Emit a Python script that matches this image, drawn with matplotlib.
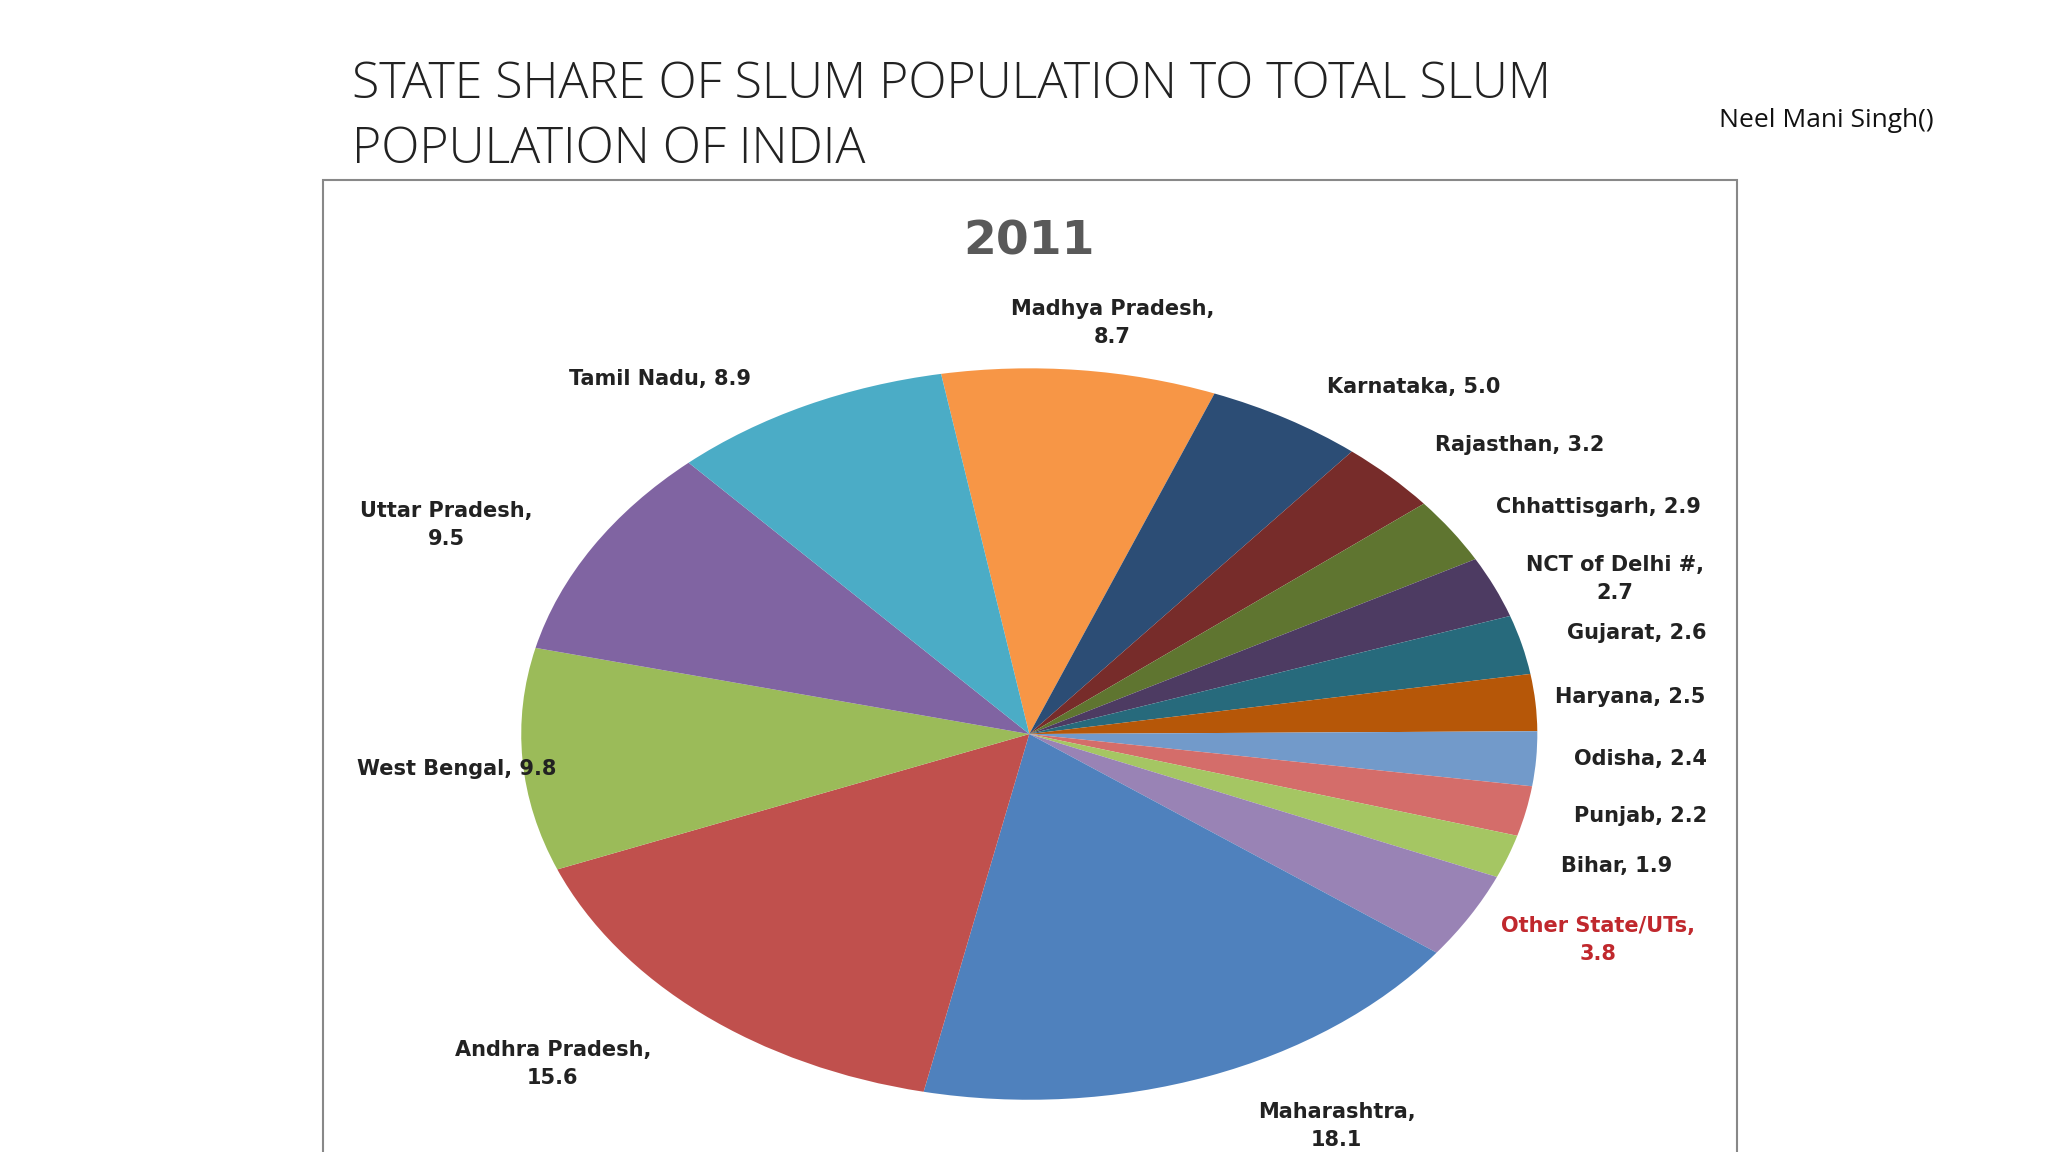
import matplotlib
matplotlib.use('Agg')
import matplotlib.pyplot as plt
from matplotlib.patches import Rectangle

states = ['Madhya Pradesh', 'Karnataka', 'Rajasthan', 'Chhattisgarh', 'NCT of Delhi #',
          'Gujarat', 'Haryana', 'Odisha', 'Punjab', 'Bihar', 'Other State/UTs',
          'Maharashtra', 'Andhra Pradesh', 'West Bengal', 'Uttar Pradesh', 'Tamil Nadu']
shares = [8.7, 5.0, 3.2, 2.9, 2.7, 2.6, 2.5, 2.4, 2.2, 1.9, 3.8, 18.1, 15.6, 9.8, 9.5, 8.9]
colors = ['#F79646', '#2C4D75', '#772C2A', '#5F7530', '#4D3B62', '#276A7C', '#B65708',
          '#729ACA', '#D46D6A', '#A5C663', '#9983B5', '#4F81BD', '#C0504D', '#9BBB59',
          '#8064A2', '#4BACC6']
# label text (line break where the original wraps)
label_fmt = ['{},\n{}', '{}, {}', '{}, {}', '{}, {}', '{},\n{}', '{}, {}', '{}, {}',
             '{}, {}', '{}, {}', '{}, {}', '{},\n{}', '{},\n{}', '{},\n{}', '{}, {}',
             '{},\n{}', '{}, {}']
# label centres in reference pixels (1552x882 preview)
label_pos = [(843, 247), (1071, 296), (1152, 341), (1211, 388), (1224, 443), (1240, 485),
             (1235, 534), (1243, 581), (1243, 625), (1225, 663), (1211, 720), (1013, 862),
             (419, 815), (346, 589), (338, 402), (500, 290)]
W, H = 1552, 882

fig = plt.figure(figsize=(20.48, 11.52), dpi=100)
fig.patch.set_facecolor('white')

fig.patches.append(Rectangle((245 / W, -0.05), (1316 - 245) / W, 0.05 + 1 - 138 / H,
                             transform=fig.transFigure, fill=False, edgecolor='#888888',
                             linewidth=1.5))

fig.text(267 / W, 1 - 65 / H, 'STATE SHARE OF SLUM POPULATION TO TOTAL SLUM',
         fontsize=36, family='Open Sans', fontweight='light', va='center', color='#222222')
fig.text(267 / W, 1 - 115 / H, 'POPULATION OF INDIA',
         fontsize=36, family='Open Sans', fontweight='light', va='center', color='#222222')
fig.text(1303 / W, 1 - 92 / H, 'Neel Mani Singh()', fontsize=19, family='Open Sans',
         va='center', color='#111111')
fig.text(780 / W, 1 - 185 / H, '2011', fontsize=34, fontweight='bold', ha='center',
         va='center', color='#595959')

cx, cy, rx, ry = 780, 562, 385, 280
ax = fig.add_axes([(cx - rx) / W, 1 - (cy + ry) / H, 2 * rx / W, 2 * ry / H])
ax.pie(shares, colors=colors, startangle=100, counterclock=False, radius=1,
       wedgeprops=dict(linewidth=0))
ax.set_aspect('auto')
ax.set_xlim(-1, 1)
ax.set_ylim(-1, 1)
ax.axis('off')

for name, v, fmt, (px, py) in zip(states, shares, label_fmt, label_pos):
    c = '#C0282D' if name.startswith('Other') else '#222222'
    fig.text(px / W, 1 - py / H, fmt.format(name, v), fontsize=15, fontweight='bold',
             ha='center', va='center', color=c, linespacing=1.5)

fig.savefig('out.png', dpi=100)
